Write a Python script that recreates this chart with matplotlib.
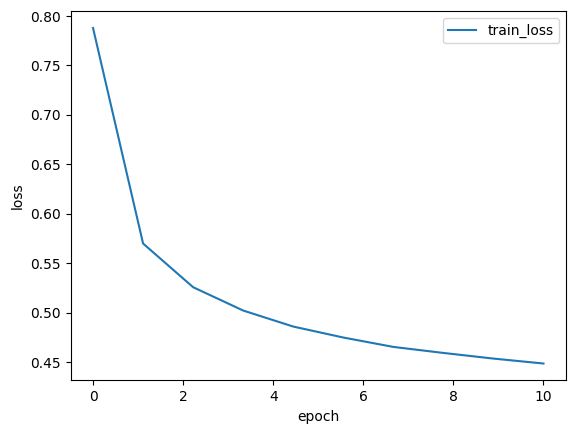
import matplotlib
matplotlib.use("Agg")
import matplotlib.pyplot as plt

epoch = [0.0, 1.111, 2.222, 3.333, 4.444, 5.556, 6.667, 7.778, 8.889, 10.0]
train_loss = [0.7879, 0.5699, 0.5257, 0.5021, 0.4859, 0.4748, 0.4653, 0.4592, 0.4535, 0.4485]

fig = plt.figure(figsize=(5.76, 4.34), dpi=100)
ax = fig.add_axes([70.5 / 576, (434 - 380.3) / 434, 495.5 / 576, 369.1 / 434])
ax.plot(epoch, train_loss, label="train_loss")
ax.set_xlabel("epoch")
ax.set_ylabel("loss")
ax.legend()
fig.savefig("out.png", dpi=100)
